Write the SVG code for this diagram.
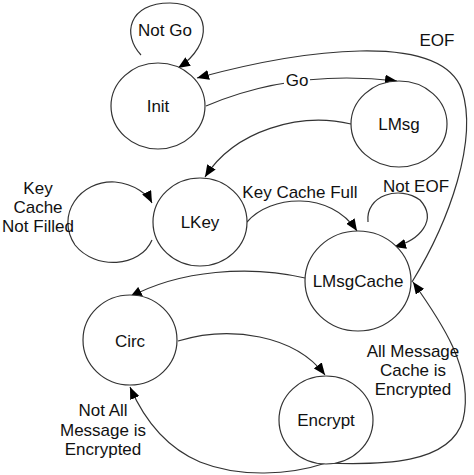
<svg xmlns="http://www.w3.org/2000/svg" width="474" height="475" viewBox="0 0 474 475">
<defs>
<style>
.node{fill:#fff;stroke:#333;stroke-width:1.2}
.t{font-family:"Liberation Sans",Arial,sans-serif;font-size:17px;fill:#111;text-anchor:middle;dominant-baseline:central}
.e{fill:none;stroke:#333;stroke-width:1.2;marker-end:url(#ah)}
</style>
<marker id="ah" viewBox="0 0 12 10" refX="12" refY="5" markerWidth="12" markerHeight="10" markerUnits="userSpaceOnUse" orient="auto">
<path d="M0,0 L12,5 L0,10 z" fill="#000"/>
</marker>
</defs>
<rect width="474" height="475" fill="#fff"/>
<g id="connectors">
<path class="e" d="M141,55 C122,35 128,3 170,3 C212,3 214,45 178,68"/>
<path class="e" d="M206,106 C255,85 320,72 397,81"/>
<path class="e" d="M412,282 C450,220 478,140 462,90 C440,30 300,50 197,78"/>
<path class="e" d="M351,124 C300,112 235,130 205,177"/>
<path class="e" d="M152,240 C140,268 95,270 75,245 C55,215 80,180 115,182 C135,184 148,195 152,203"/>
<path class="e" d="M247,222 C270,195 330,190 357,231"/>
<path class="e" d="M368,222 C365,195 400,185 420,200 C438,220 420,240 394,247"/>
<path class="e" d="M305,278 C250,265 180,270 130,297"/>
<path class="e" d="M178,341 C230,325 295,335 325,375"/>
<path class="e" d="M326,463 C380,465 450,465 463,420 C475,370 440,320 413,282"/>
<path class="e" d="M326,463 C290,475 240,478 200,462 C160,445 140,410 130,387"/>
</g>
<g id="labels">
<text class="t" x="165" y="30">Not Go</text>
<rect x="284" y="70" width="26" height="20" fill="#fff"/>
<text class="t" x="297" y="80">Go</text>
<text class="t" x="437" y="40">EOF</text>
<text class="t" x="38" y="188">Key</text>
<text class="t" x="38" y="207">Cache</text>
<text class="t" x="38" y="226">Not Filled</text>
<text class="t" x="300" y="192">Key Cache Full</text>
<text class="t" x="416" y="186">Not EOF</text>
<text class="t" x="413" y="351">All Message</text>
<text class="t" x="413" y="370">Cache is</text>
<text class="t" x="413" y="389">Encrypted</text>
<text class="t" x="103" y="410">Not All</text>
<text class="t" x="103" y="430">Message is</text>
<text class="t" x="103" y="449">Encrypted</text>
</g>
<g id="Init"><ellipse class="node" cx="158" cy="106" rx="47" ry="43"/><text class="t" x="158" y="106">Init</text></g>
<g id="LMsg"><ellipse class="node" cx="399" cy="124" rx="48" ry="43"/><text class="t" x="399" y="124">LMsg</text></g>
<g id="LKey"><ellipse class="node" cx="200" cy="222" rx="47" ry="44"/><text class="t" x="200" y="222">LKey</text></g>
<g id="LMsgCache"><ellipse class="node" cx="358" cy="281" rx="53" ry="50"/><text class="t" x="358" y="281">LMsgCache</text></g>
<g id="Circ"><ellipse class="node" cx="130" cy="340" rx="47" ry="45"/><text class="t" x="130" y="341">Circ</text></g>
<g id="Encrypt"><ellipse class="node" cx="326" cy="420" rx="47" ry="44"/><text class="t" x="326" y="420">Encrypt</text></g>
</svg>
